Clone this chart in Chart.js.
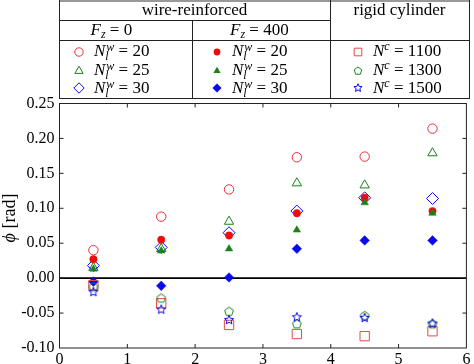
<!DOCTYPE html>
<html><head><meta charset="utf-8">
<script src="https://cdn.jsdelivr.net/npm/chart.js@4/dist/chart.umd.min.js"></script>
<style>
html,body{margin:0;padding:0;background:#fff;}
#wrap{position:relative;width:474px;height:364px;overflow:hidden;font-family:'Liberation Serif','Times New Roman',serif;color:#000;}
#c{position:absolute;left:0;top:0;}
.ln{position:absolute;background:#222;}
.t{position:absolute;font-size:17px;line-height:17px;white-space:nowrap;}
.stk{display:inline-block;position:relative;width:9px;height:0;}
.p,.b{position:absolute;font-size:12px;line-height:12px;font-style:italic;}
.p{top:-15px;left:1px;} .b{top:-6px;left:0;}
.sb{position:relative;top:3.5px;font-size:12px;font-style:italic;line-height:0;}
.su{position:relative;top:-6px;font-size:12px;font-style:italic;line-height:0;}
canvas.ic{position:absolute;}
#ylab{position:absolute;left:-41px;top:208px;width:100px;height:20px;line-height:20px;text-align:center;font-size:18px;transform:rotate(-90deg);white-space:nowrap;}
</style></head><body>
<div id="wrap">
<canvas id="c" width="474" height="364"></canvas>
<div class="ln" style="left:59px;top:0;width:411px;height:1.5px;background:#999"></div>
<div class="ln" style="left:59px;top:0;width:1px;height:99px"></div>
<div class="ln" style="left:468.5px;top:0;width:1px;height:99px"></div>
<div class="ln" style="left:59px;top:98px;width:410.5px;height:1px"></div>
<div class="ln" style="left:59px;top:20px;width:271px;height:1px"></div>
<div class="ln" style="left:59px;top:40px;width:410px;height:1px"></div>
<div class="ln" style="left:192px;top:20px;width:1px;height:79px"></div>
<div class="ln" style="left:329.5px;top:0;width:1px;height:99px"></div>

<div class="t" style="left:59px;width:271px;text-align:center;top:1.3px">wire-reinforced</div>
<div class="t" style="left:330px;width:139px;text-align:center;top:1.3px">rigid cylinder</div>
<div class="t" style="left:90.5px;top:20.8px"><i>F</i><span class="sb">z</span> = 0</div>
<div class="t" style="left:230px;top:20.8px"><i>F</i><span class="sb">z</span> = 400</div>

<div id="ylab"><i>ϕ</i> [rad]</div>
</div>
<script>
// ---- data ----
const xPositions = [0.5, 1.5, 2.5, 3.5, 4.5, 5.5];
const wire0_N20   = [0.040, 0.088, 0.127, 0.173, 0.174, 0.214];
const wire0_N25   = [0.015, 0.042, 0.081, 0.136, 0.133, 0.179];
const wire0_N30   = [0.018, 0.044, 0.065, 0.096, 0.115, 0.114];
const wire400_N20 = [0.027, 0.055, 0.061, 0.093, 0.115, 0.096];
const wire400_N25 = [0.013, 0.039, 0.042, 0.069, 0.108, 0.093];
const wire400_N30 = [-0.005, -0.011, 0.001, 0.042, 0.054, 0.054];
const rigid_N1100 = [-0.010, -0.036, -0.067, -0.080, -0.083, -0.076];
const rigid_N1300 = [-0.013, -0.029, -0.048, -0.066, -0.054, -0.066];
const rigid_N1500 = [-0.020, -0.045, -0.060, -0.056, -0.057, -0.065];
const xTicks = [0, 1, 2, 3, 4, 5, 6];
const yTicks = [-0.10, -0.05, 0.00, 0.05, 0.10, 0.15, 0.20, 0.25];
const wireLabels = ['20', '25', '30'];
const rigidLabels = ['1100', '1300', '1500'];

// ---- colors ----
const RED_O = 'rgb(236,45,55)', RED_F = 'rgb(240,10,10)';
const GRN = 'rgb(25,130,25)', BLU = 'rgb(10,10,235)';
const SQ = 'rgb(235,70,70)';

function drawShape(ctx, type, cx, cy, r, stroke, fill, lw) {
  ctx.beginPath();
  if (type === 'circle') ctx.arc(cx, cy, r, 0, Math.PI * 2);
  else if (type === 'triangle') {
    for (let k = 0; k < 3; k++) { const a = -Math.PI / 2 + k * 2 * Math.PI / 3; const px = cx + r * Math.cos(a), py = cy + r * Math.sin(a); k ? ctx.lineTo(px, py) : ctx.moveTo(px, py); }
    ctx.closePath();
  } else if (type === 'diamond') {
    ctx.moveTo(cx, cy - r); ctx.lineTo(cx + r, cy); ctx.lineTo(cx, cy + r); ctx.lineTo(cx - r, cy); ctx.closePath();
  } else if (type === 'square') {
    ctx.rect(cx - r, cy - r, 2 * r, 2 * r);
  } else if (type === 'pentagon') {
    for (let k = 0; k < 5; k++) { const a = -Math.PI / 2 + k * 2 * Math.PI / 5; const px = cx + r * Math.cos(a), py = cy + r * Math.sin(a); k ? ctx.lineTo(px, py) : ctx.moveTo(px, py); }
    ctx.closePath();
  } else if (type === 'star') {
    for (let k = 0; k < 10; k++) { const a = -Math.PI / 2 + k * Math.PI / 5; const rr = k % 2 ? r * 0.45 : r; const px = cx + rr * Math.cos(a), py = cy + rr * Math.sin(a); k ? ctx.lineTo(px, py) : ctx.moveTo(px, py); }
    ctx.closePath();
  }
  if (fill) { ctx.fillStyle = fill; ctx.fill(); }
  if (stroke) { ctx.strokeStyle = stroke; ctx.lineWidth = lw; ctx.stroke(); }
}
function markerImage(type, r, color) {
  const c = document.createElement('canvas'); c.width = 14; c.height = 14;
  drawShape(c.getContext('2d'), type, 7, 7, r, color, null, 1);
  return c;
}
const pentImg = markerImage('pentagon', 4.6, GRN);
const starImg = markerImage('star', 4.8, BLU);

const pts = arr => arr.map((v, i) => ({ x: xPositions[i], y: v }));
const specs = [
  { d: wire0_N20, style: 'circle', r: 4.7, b: RED_O, f: 'transparent', w: 1 },
  { d: wire0_N25, style: 'triangle', r: 5.4, b: GRN, f: 'transparent', w: 1 },
  { d: wire0_N30, style: 'rectRot', r: 6, b: BLU, f: 'transparent', w: 1 },
  { d: wire400_N20, style: 'circle', r: 3.7, b: RED_F, f: RED_F, w: 0.5 },
  { d: wire400_N25, style: 'triangle', r: 4.3, b: GRN, f: GRN, w: 0.5 },
  { d: wire400_N30, style: 'rectRot', r: 4.8, b: BLU, f: BLU, w: 0.5 },
  { d: rigid_N1100, style: 'rect', r: 6.6, b: SQ, f: 'transparent', w: 1 },
  { d: rigid_N1300, style: pentImg, r: 4.6, b: GRN, f: 'transparent', w: 1 },
  { d: rigid_N1500, style: starImg, r: 4.8, b: BLU, f: 'transparent', w: 1 },
];
const datasets = specs.map((s, i) => ({
  data: pts(s.d), pointStyle: s.style, pointRadius: s.r, pointHoverRadius: s.r,
  borderColor: s.b, backgroundColor: s.f, pointBorderWidth: s.w, borderWidth: s.w,
  showLine: false, order: 20 - i,
}));

const framePlugin = {
  id: 'frame',
  beforeDatasetsDraw(chart) {
    const { ctx, chartArea: a, scales: { y } } = chart;
    const y0 = y.getPixelForValue(0);
    ctx.save(); ctx.strokeStyle = '#000'; ctx.lineWidth = 1.6;
    ctx.beginPath(); ctx.moveTo(a.left, y0); ctx.lineTo(a.right, y0); ctx.stroke(); ctx.restore();
  },
  afterDatasetsDraw(chart) {
    const { ctx, chartArea: a, scales: { x, y } } = chart;
    ctx.save(); ctx.strokeStyle = '#222'; ctx.lineWidth = 1;
    ctx.strokeRect(a.left, a.top, a.right - a.left, a.bottom - a.top);
    const L = 4;
    ctx.beginPath();
    xTicks.slice(1, -1).forEach(v => { const px = x.getPixelForValue(v); ctx.moveTo(px, a.top); ctx.lineTo(px, a.top + L); ctx.moveTo(px, a.bottom); ctx.lineTo(px, a.bottom - L); });
    yTicks.slice(1, -1).forEach(v => { const py = y.getPixelForValue(v); ctx.moveTo(a.left, py); ctx.lineTo(a.left + L, py); ctx.moveTo(a.right, py); ctx.lineTo(a.right - L, py); });
    ctx.stroke(); ctx.restore();
  }
};

const tickFont = { family: "'Liberation Serif', 'Times New Roman', serif", size: 16 };
new Chart(document.getElementById('c'), {
  type: 'scatter',
  data: { datasets },
  options: {
    responsive: false, animation: false, devicePixelRatio: 1,
    layout: { padding: { top: 103.5, right: 5, left: 0, bottom: 0 } },
    plugins: { legend: { display: false }, tooltip: { enabled: false } },
    scales: {
      x: {
        type: 'linear', min: xTicks[0], max: xTicks[xTicks.length - 1],
        afterBuildTicks: s => { s.ticks = xTicks.map(v => ({ value: v })); },
        ticks: { font: tickFont, color: '#000', padding: 2, maxRotation: 0, autoSkip: false, callback: v => String(v) },
        grid: { display: false, drawTicks: false }, border: { display: false },
        afterFit: s => { s.height = 16; s.paddingLeft = 0; s.paddingRight = 0; }
      },
      y: {
        type: 'linear', min: yTicks[0], max: yTicks[yTicks.length - 1],
        afterBuildTicks: s => { s.ticks = yTicks.map(v => ({ value: v })); },
        ticks: { font: tickFont, color: '#000', padding: 5, autoSkip: false, callback: v => (Math.abs(v) < 1e-9 ? 0 : v).toFixed(2) },
        grid: { display: false, drawTicks: false }, border: { display: false },
        afterFit: s => { s.width = 59.5; s.paddingTop = 0; s.paddingBottom = 0; }
      }
    }
  },
  plugins: [framePlugin]
});

// ---- legend table entries ----
const wrap = document.getElementById('wrap');
const rowY = [52, 71, 88];
const baseY = [56.3, 74.8, 92.8];
function addIcon(type, cx, cy, r, stroke, fill) {
  const c = document.createElement('canvas'); c.className = 'ic'; c.width = 16; c.height = 16;
  c.style.left = (cx - 8) + 'px'; c.style.top = (cy - 8) + 'px';
  drawShape(c.getContext('2d'), type, 8, 8, r, stroke, fill, 1);
  wrap.appendChild(c);
}
function addText(html, left, baseline) {
  const d = document.createElement('div'); d.className = 't';
  d.style.left = left + 'px'; d.style.top = (baseline - 14.25) + 'px';
  d.innerHTML = html; wrap.appendChild(d);
}
const wireHtml = v => '<i>N</i><span class="stk"><span class="p">w</span><span class="b">l</span></span> = ' + v;
const rigidHtml = v => '<i>N</i><span class="su">c</span> = ' + v;
const col1 = [['circle', 4.2, RED_O, null], ['triangle', 4.8, GRN, null], ['diamond', 5.2, BLU, null]];
const col2 = [['circle', 3.4, null, RED_F], ['triangle', 4.2, null, GRN], ['diamond', 4.6, null, BLU]];
const col3 = [['square', 3.8, SQ, null], ['pentagon', 4.0, GRN, null], ['star', 4.3, BLU, null]];
for (let i = 0; i < 3; i++) {
  addIcon(col1[i][0], 79, rowY[i], col1[i][1], col1[i][2], col1[i][3]);
  addText(wireHtml(wireLabels[i]), 94, baseY[i]);
  addIcon(col2[i][0], 217, rowY[i], col2[i][1], col2[i][2], col2[i][3]);
  addText(wireHtml(wireLabels[i]), 232, baseY[i]);
  addIcon(col3[i][0], 358, rowY[i], col3[i][1], col3[i][2], col3[i][3]);
  addText(rigidHtml(rigidLabels[i]), 373, baseY[i]);
}
</script>
</body></html>
